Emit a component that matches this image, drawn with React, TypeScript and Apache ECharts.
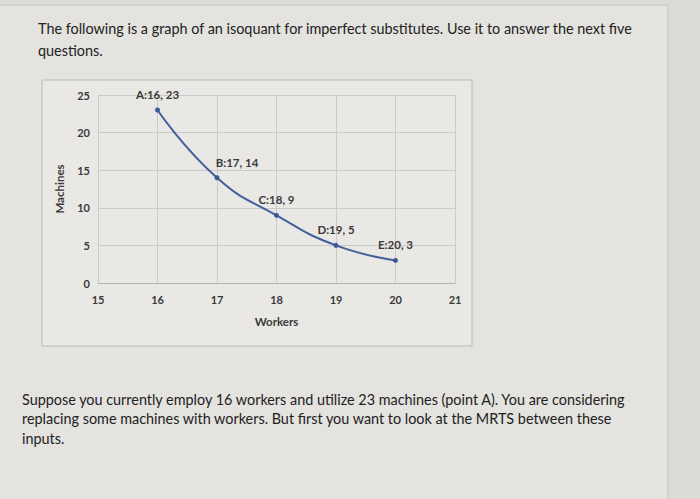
import { useEffect, useRef } from "react";
import * as echarts from "echarts";

// isoquant points
const pointNames = ["A", "B", "C", "D", "E"];
const workers = [16, 17, 18, 19, 20];
const machines = [23, 14, 9, 5, 3];

const xTicks = [15, 16, 17, 18, 19, 20, 21];
const yTicks = [0, 5, 10, 15, 20, 25];

const introLines = [
    "The following is a graph of an isoquant for imperfect substitutes. Use it to answer the next five",
    "questions.",
];
const questionLines = [
    "Suppose you currently employ 16 workers and utilize 23 machines (point A). You are considering",
    "replacing some machines with workers. But first you want to look at the MRTS between these",
    "inputs.",
];

const FONT = "Lato, 'Open Sans', sans-serif";

export default function App() {
    const chartRef = useRef<HTMLDivElement | null>(null);

    useEffect(() => {
        if (!chartRef.current) return;
        const chart = echarts.init(chartRef.current, undefined, { renderer: "svg" });

        const textLines = (lines: string[], x: number, y0: number, step: number) =>
            lines.map((t, i) => ({
                type: "text",
                x,
                y: y0 + i * step,
                silent: true,
                style: {
                    text: t,
                    font: `14.4px ${FONT}`,
                    fill: "#222222",
                    textVerticalAlign: "middle",
                },
            }));

        const option: echarts.EChartsOption = {
            animation: false,
            backgroundColor: "#dddbd6",
            graphic: [
                {
                    type: "rect",
                    z: -10,
                    silent: true,
                    shape: { x: -2, y: 5, width: 670, height: 500 },
                    style: { fill: "#e4e3df", stroke: "#c4c3bf", lineWidth: 1 },
                },
                {
                    type: "rect",
                    z: -9,
                    silent: true,
                    shape: { x: 42, y: 80, width: 430, height: 266 },
                    style: { fill: "#e9e8e5", stroke: "#bcbbb7", lineWidth: 1 },
                },
                ...textLines(introLines, 38, 28, 22),
                ...textLines(questionLines, 22, 399, 19.5),
            ] as any,
            grid: {
                left: 98,
                top: 95,
                right: 245,
                bottom: 216,
                show: false,
            },
            xAxis: {
                type: "value",
                min: xTicks[0],
                max: xTicks[xTicks.length - 1],
                interval: 1,
                name: "Workers",
                nameLocation: "middle",
                nameGap: 32,
                nameTextStyle: { color: "#3a3a3a", fontSize: 11.5, fontWeight: "bold", fontFamily: FONT },
                axisLine: { show: true, lineStyle: { color: "#b5b4b0" } },
                axisTick: { show: false },
                axisLabel: { color: "#3a3a3a", fontSize: 11, fontWeight: "bold", margin: 11, fontFamily: FONT },
                splitLine: { show: true, lineStyle: { color: "#cbcac6" } },
            },
            yAxis: {
                type: "value",
                min: yTicks[0],
                max: yTicks[yTicks.length - 1],
                interval: 5,
                name: "Machines",
                nameLocation: "middle",
                nameGap: 33,
                nameRotate: 90,
                nameTextStyle: { color: "#3a3a3a", fontSize: 11.5, fontWeight: "bold", fontFamily: FONT },
                axisLine: { show: false },
                axisTick: { show: false },
                axisLabel: { color: "#3a3a3a", fontSize: 11, fontWeight: "bold", margin: 8, fontFamily: FONT },
                splitLine: { show: true, lineStyle: { color: "#cbcac6" } },
            },
            series: [
                {
                    type: "line",
                    smooth: true,
                    data: workers.map((w, i) => ({
                        value: [w, machines[i]],
                        name: pointNames[i],
                        label: i === 1 ? { position: "top", offset: [20, -2] } : { position: "top", offset: [0, -2] },
                    })),
                    symbol: "circle",
                    symbolSize: 5,
                    lineStyle: { color: "#41609c", width: 2 },
                    itemStyle: { color: "#3a5a98" },
                    label: {
                        show: true,
                        color: "#3a3a3a",
                        fontSize: 11.5,
                        fontWeight: "bold",
                        fontFamily: FONT,
                        formatter: (p: any) => `${p.name}:${p.value[0]}, ${p.value[1]}`,
                    },
                },
            ],
        };

        chart.setOption(option);
        return () => chart.dispose();
    }, []);

    return (
        <div
            ref={chartRef}
            style={{ position: "fixed", left: 0, top: 0, width: "700px", height: "499px" }}
        />
    );
}
